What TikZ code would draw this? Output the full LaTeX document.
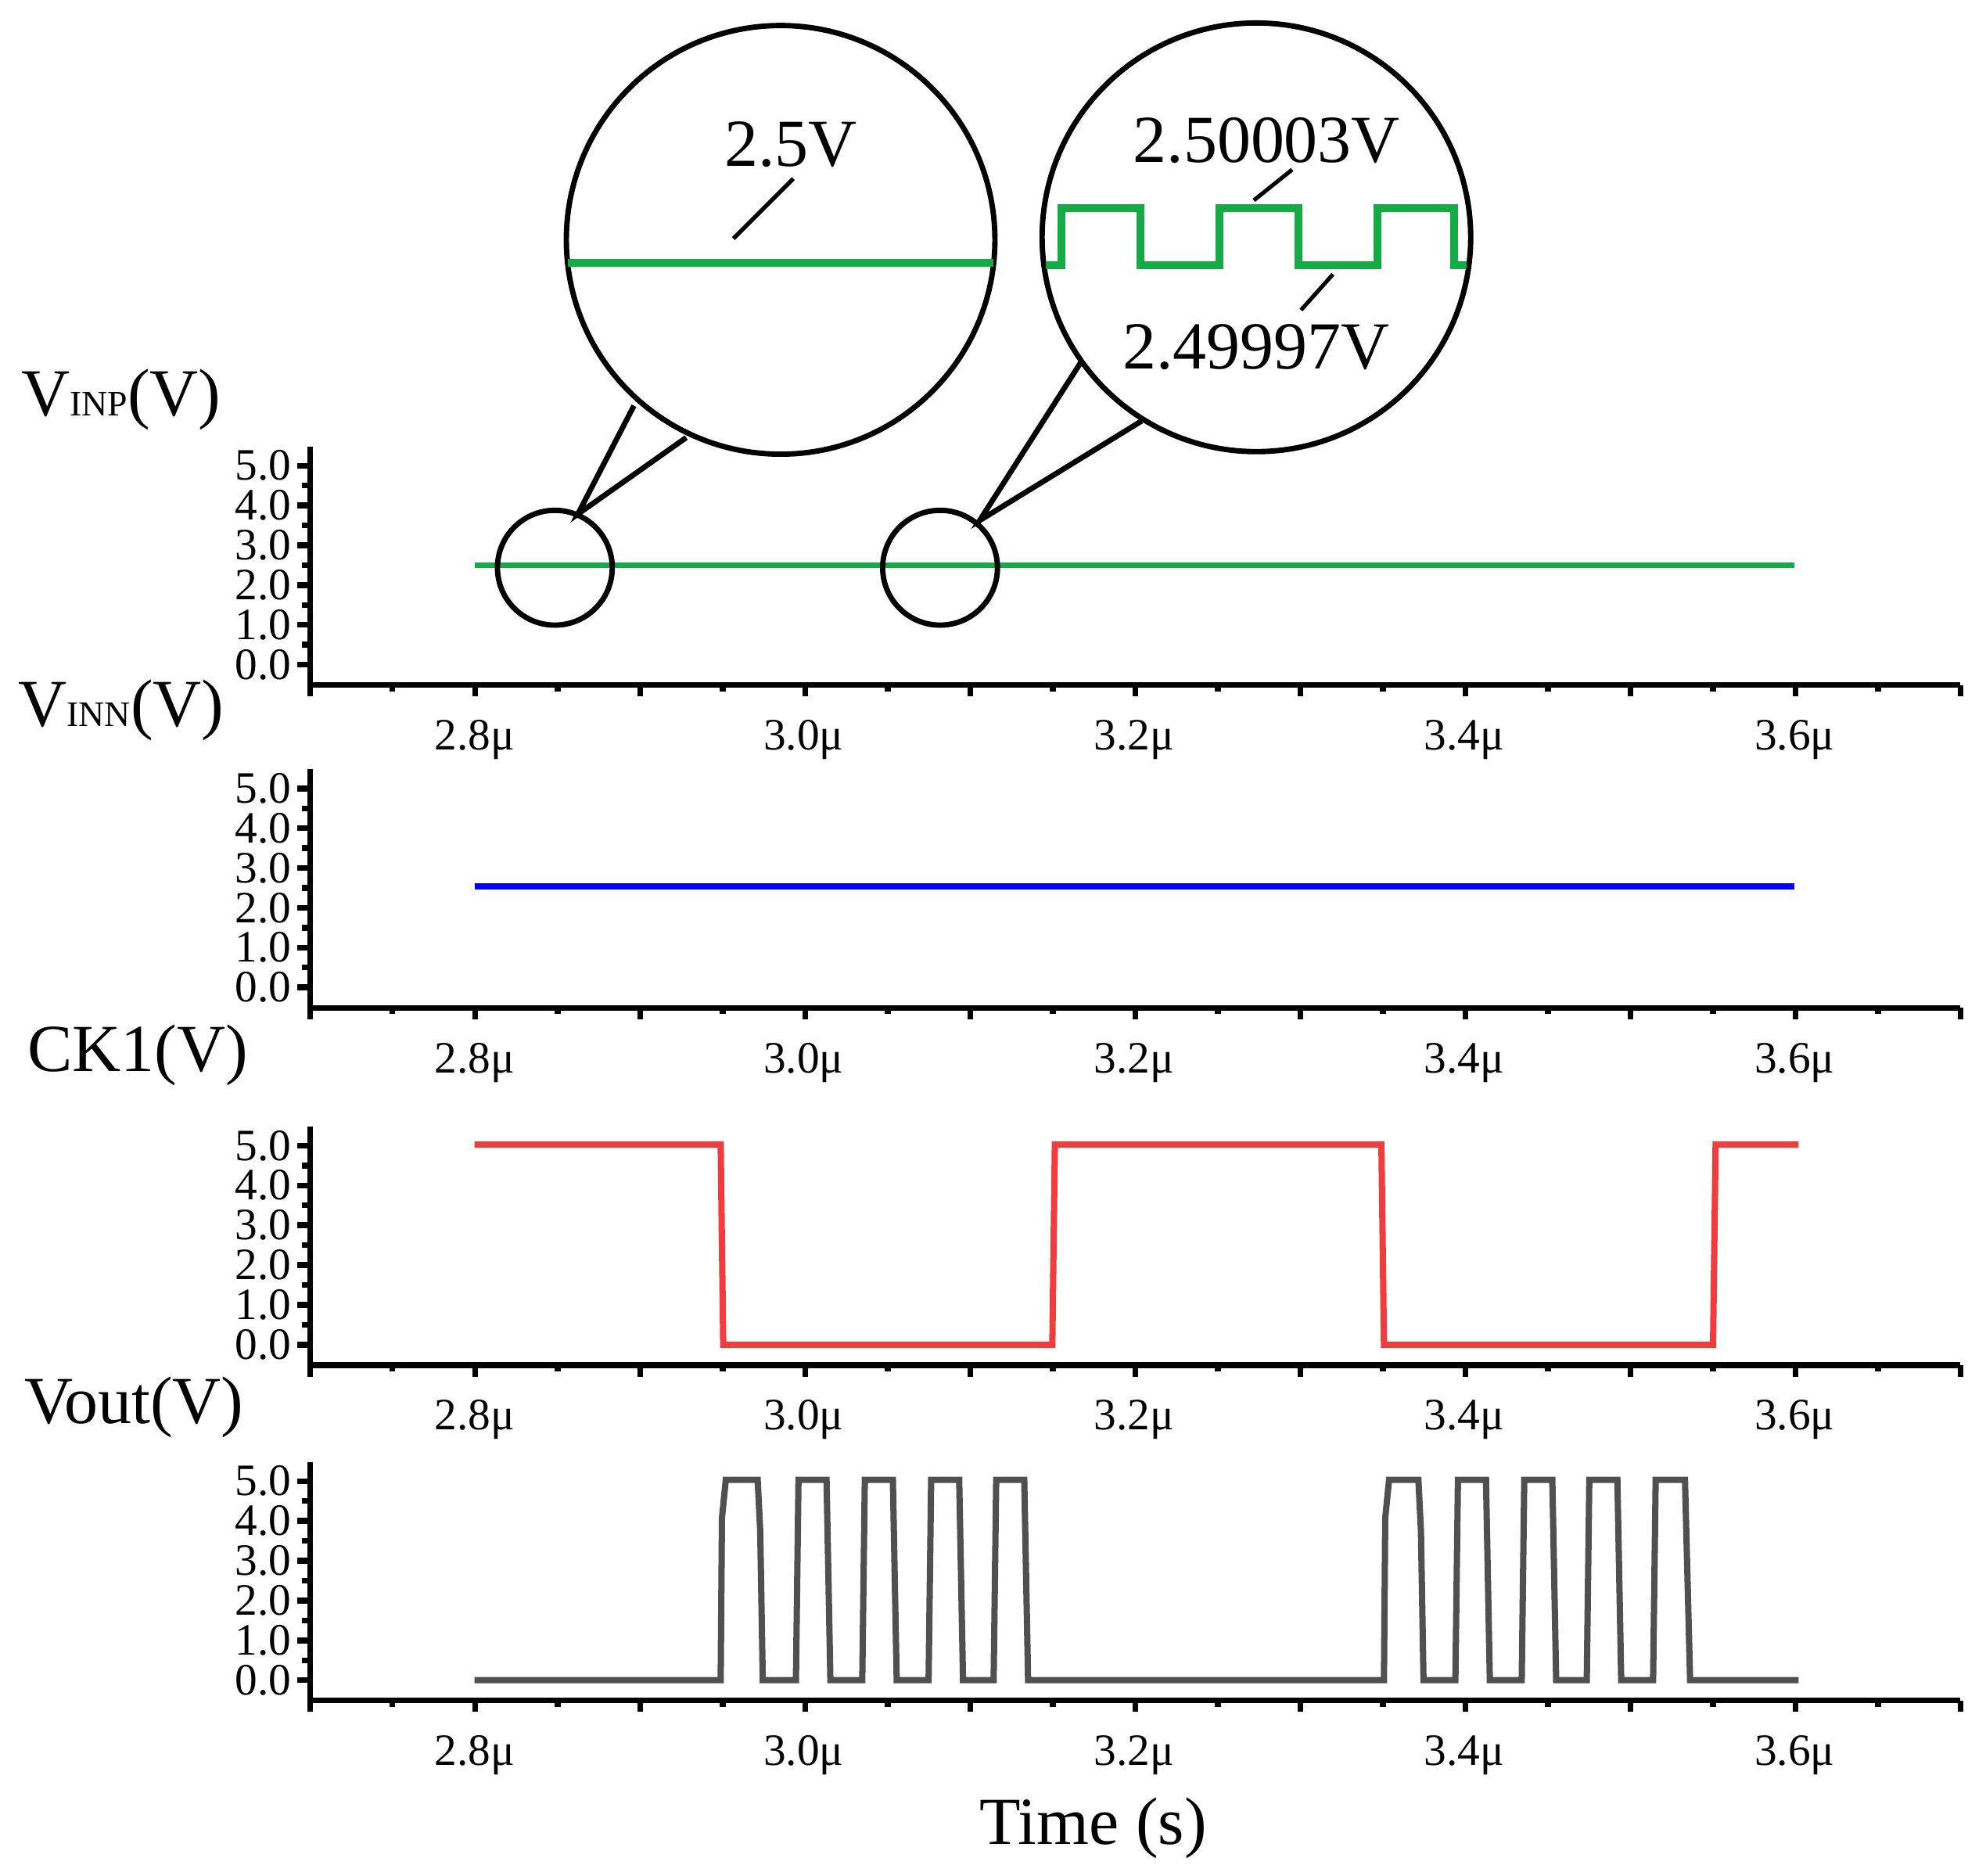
\documentclass[tikz,border=0pt]{standalone}
\usepackage{fontspec}
\setmainfont{Liberation Serif}
\begin{document}
\begin{tikzpicture}[x=0.1mm,y=-0.1mm,
  tick/.style={font=\fontsize{10}{10}\selectfont,inner sep=0pt},
  ttl/.style={font=\fontsize{15}{17}\selectfont,inner sep=1pt},
  ax/.style={line width=1.3pt},
  wave/.style={line width=1.4pt},
  ring/.style={line width=1.2pt}]
\useasboundingbox (0,0) rectangle (1557,1470);
\definecolor{gr}{RGB}{20,170,70}
\definecolor{rd}{RGB}{240,60,60}
\definecolor{gy}{RGB}{80,80,80}
\foreach \z/\n in {521/a,774/b,1054/c,1317/d}{
  \coordinate (o\n) at (243,\z+16);
  \draw[ax] (243,\z-171) -- (243,\z+16) -- (1537,\z+16);
  \foreach \k in {0,...,5}{
    \draw[ax] (243,\z-31.2*\k) -- ++(-10,0);
    \node[tick,anchor=east] at (229,\z-31.2*\k) {\k.0};
  }
  \foreach \k in {0,...,4}{ \draw[ax] (243,\z-31.2*\k-15.6) -- ++(-6,0); }
  \foreach \i in {0,...,10}{ \draw[ax] (243+129.4*\i,\z+16) -- ++(0,9); }
  \foreach \i in {0,...,9}{ \draw[ax] (243+129.4*\i+64.7,\z+16) -- ++(0,5); }
  \foreach \lab/\xx in {2.8/372,3.0/630,3.2/889,3.4/1148,3.6/1407}{
    \node[tick] at (\xx,\z+59) {\lab μ};
  }
}
\node[ttl] (t1) at (95,313) {V{\fontsize{8}{10}\selectfont INP}(V)};
\node[ttl] (t2) at (95,557) {V{\fontsize{8}{10}\selectfont INN}(V)};
\node[ttl] (t3) at (108,827) {CK1(V)};
\node[ttl] (t4) at (105,1103) {Vout(V)};
\node[ttl] (tx) at (857,1433) {Time (s)};
\draw[wave,gr,line width=1.1pt] (372,443) -- (1407,443);
\draw[wave,blue] (372,695) -- (1407,695);
\draw[wave,rd] (372,897) -- (565,897) -- (567,1054) -- (825,1054) -- (827,897) -- (1083,897) -- (1085,1054) -- (1343,1054) -- (1345,897) -- (1410,897);
\draw[wave,gy] (372,1317) -- (565,1317)
  -- (566,1190) -- (569,1160) -- (594,1160) -- (596,1200) -- (598,1317)
  -- (624,1317) -- (626,1160) -- (648,1160) -- (651,1317)
  -- (676,1317) -- (678,1160) -- (700,1160) -- (703,1317)
  -- (728,1317) -- (730,1160) -- (752,1160) -- (755,1317)
  -- (779,1317) -- (781,1160) -- (803,1160) -- (806,1317)
  -- (1085,1317) -- (1086,1190) -- (1089,1160) -- (1112,1160) -- (1114,1200) -- (1116,1317)
  -- (1141,1317) -- (1143,1160) -- (1165,1160) -- (1168,1317)
  -- (1193,1317) -- (1195,1160) -- (1217,1160) -- (1220,1317)
  -- (1244,1317) -- (1246,1160) -- (1268,1160) -- (1271,1317)
  -- (1296,1317) -- (1298,1160) -- (1321,1160) -- (1325,1317) -- (1410,1317);
\node[ring,draw,circle,minimum size=90*0.1mm,inner sep=0] (s1) at (435,445) {};
\node[ring,draw,circle,minimum size=90*0.1mm,inner sep=0] (s2) at (737,445) {};
\node[ring,draw,circle,minimum size=336*0.1mm,inner sep=0] (b1) at (612,188) {};
\node[ring,draw,circle,minimum size=336*0.1mm,inner sep=0] (b2) at (985,186) {};
\coordinate (p1) at (453,403); \coordinate (q1) at (497,318); \coordinate (r1) at (538,343);
\coordinate (p2) at (768,408); \coordinate (q2) at (848,283); \coordinate (r2) at (895,330);
\draw[ring] (q1) -- (p1) -- (r1);
\draw[ring] (q2) -- (p2) -- (r2);
\draw[wave,gr,line width=1.8pt] (445,206) -- (779,206);
\draw[wave,gr,line width=1.8pt] (820,208) -- (832,208) -- (832,163) -- (894,163) -- (894,208) -- (956,208) -- (956,163) -- (1018,163) -- (1018,208) -- (1080,208) -- (1080,163) -- (1140,163) -- (1140,208) -- (1150,208);
\node[ttl] (l1) at (620,113) {2.5V};
\node[ttl] (l2) at (993,110) {2.50003V};
\node[ttl] (l3) at (985,272) {2.49997V};
\coordinate (a1) at (575,187); \coordinate (a2) at (622,140);
\coordinate (c1) at (983,157); \coordinate (c2) at (1013,133);
\coordinate (d1) at (1020,243); \coordinate (d2) at (1045,215);
\draw[ring,line width=0.9pt] (a1) -- (a2);
\draw[ring,line width=0.9pt] (c1) -- (c2);
\draw[ring,line width=0.9pt] (d1) -- (d2);
\end{tikzpicture}
\end{document}
